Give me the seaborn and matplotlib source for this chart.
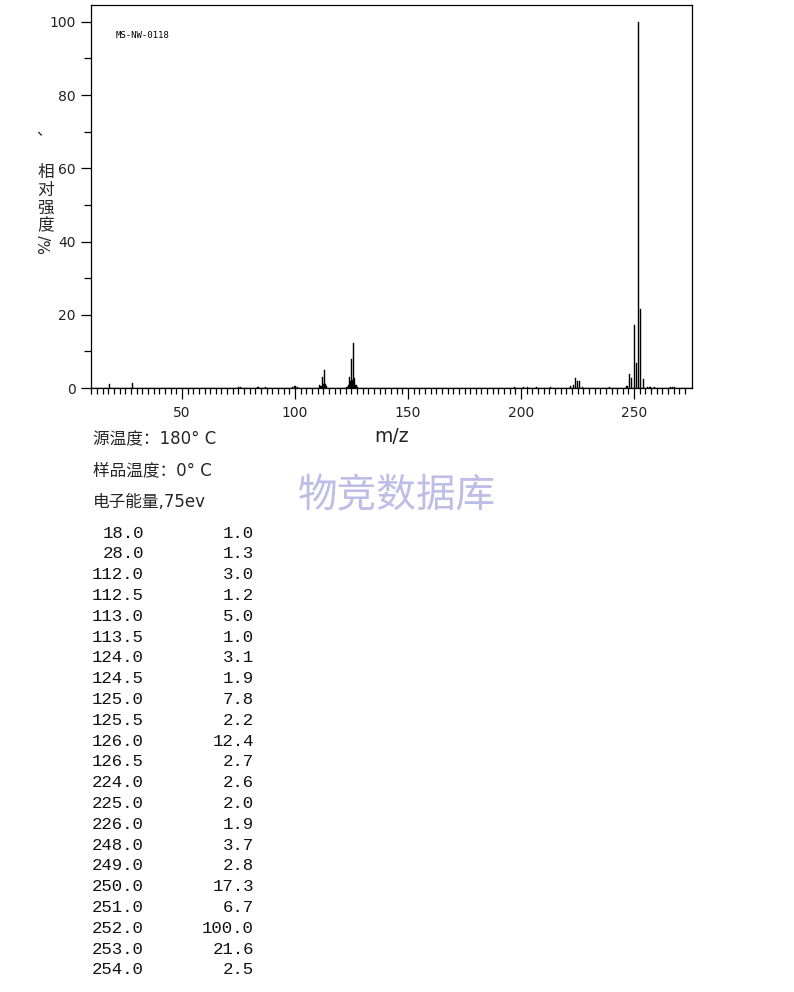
import numpy as np
import pandas as pd
import matplotlib
matplotlib.use("Agg")
import matplotlib.pyplot as plt
import seaborn as sns

# ---- data ----
# listed peaks (table)
mz_main = [18.0, 28.0, 112.0, 112.5, 113.0, 113.5, 124.0, 124.5, 125.0, 125.5,
           126.0, 126.5, 224.0, 225.0, 226.0, 248.0, 249.0, 250.0, 251.0, 252.0,
           253.0, 254.0]
int_main = [1.0, 1.3, 3.0, 1.2, 5.0, 1.0, 3.1, 1.9, 7.8, 2.2,
            12.4, 2.7, 2.6, 2.0, 1.9, 3.7, 2.8, 17.3, 6.7, 100.0,
            21.6, 2.5]
# small unlisted peaks (estimated from the plot)
mz_minor = [75.0, 76.0, 83.5, 84.0, 87.0, 99.0, 100.0, 101.0, 111.0, 111.5,
            114.0, 123.0, 123.5, 127.0, 127.5, 197.0, 201.0, 203.0, 207.0, 213.0,
            222.0, 223.0, 227.0, 239.0, 246.5, 247.0, 256.0, 257.0, 259.0, 266.0,
            267.0, 268.0]
int_minor = [0.4, 0.3, 0.3, 0.3, 0.4, 0.4, 0.6, 0.4, 0.7, 0.6,
             0.6, 0.4, 0.7, 0.8, 0.4, 0.3, 0.4, 0.3, 0.3, 0.3,
             0.5, 0.8, 0.4, 0.3, 0.6, 0.6, 0.4, 0.3, 0.3, 0.3,
             0.4, 0.3]

x_ticks = [50, 100, 150, 200, 250]
y_ticks = [0, 20, 40, 60, 80, 100]
sample_id = "MS-NW-0118"
info_lines = ["源温度：180° C", "样品温度：0° C", "电子能量,75ev"]
watermark = "物竞数据库"
ylabel_chars = ["相", "对", "强", "度"]

df = pd.DataFrame({"mz": mz_main + mz_minor, "inten": int_main + int_minor})

sns.set_style("white")
plt.rcParams["font.family"] = ["DejaVu Sans", "Noto Sans CJK SC"]

W, H = 794, 992
fig = plt.figure(figsize=(W / 100, H / 100), dpi=100)
ax = fig.add_axes([91 / W, 1 - 388 / H, (692 - 91) / W, (388 - 5) / H])

sns.histplot(data=df, x="mz", weights="inten", binwidth=0.5,
             binrange=(9.75, 275.75), color="black", alpha=1,
             edgecolor="black", linewidth=0.3, ax=ax)

ax.set_xlim(9.8, 275.6)
ax.set_ylim(0, 104.6)
ax.set_xlabel("")
ax.set_ylabel("")
ax.set_xticks(x_ticks)
ax.set_xticks(np.arange(10, 273, 2.5), minor=True)
ax.set_yticks(y_ticks)
ax.set_yticks([10, 30, 50, 70, 90], minor=True)
for s in ax.spines.values():
    s.set_color("black")
    s.set_linewidth(0.9)
ax.tick_params(axis="x", which="major", length=8, width=0.9, direction="out",
               labelsize=10, pad=5, colors="black", labelcolor="#222222")
ax.tick_params(axis="x", which="minor", length=4.5, width=0.9, direction="out",
               colors="black")
ax.tick_params(axis="y", which="major", length=7, width=0.9, direction="out",
               labelsize=10, pad=4, colors="black", labelcolor="#222222")
ax.tick_params(axis="y", which="minor", length=5, width=0.9, direction="out",
               colors="black")
ax.tick_params(bottom=True, left=True, which="both")

ax.text(20.6, 96.3, sample_id, fontsize=6.5, family="DejaVu Sans Mono",
        va="center", ha="left", color="black")

def ftext(x, y, s, **kw):
    fig.text(x / W, 1 - y / H, s, **kw)

cjk = ["Noto Sans CJK SC", "DejaVu Sans"]
latin_first = ["DejaVu Sans", "Noto Sans CJK SC"]
# y label
ftext(44, 131, "、", fontsize=11, family=cjk, ha="center", va="center")
for i, ch in enumerate(ylabel_chars):
    ftext(46, 172 + 18 * i, ch, fontsize=12, family=cjk, ha="center", va="center")
ftext(46, 244, "%/", fontsize=11, family=latin_first, ha="center", va="center",
      rotation=90)

# x label
ftext(391, 437, "m/z", fontsize=13.5, ha="center", va="center", color="#222222")

# info lines
for i, line in enumerate(info_lines):
    ftext(93, 439 + 31.5 * i, line, fontsize=12, family=latin_first,
          ha="left", va="center")

# watermark
ftext(397, 495, watermark, fontsize=28.5, family=cjk, ha="center", va="center",
      color="#bdbde6")

# table
for i, (m, v) in enumerate(zip(mz_main, int_main)):
    y = 533 + 20.8 * i
    ftext(144, y, f"{m:.1f}", fontsize=12.5, family="Liberation Mono",
          ha="right", va="center", color="#111111")
    ftext(254, y, f"{v:.1f}", fontsize=12.5, family="Liberation Mono",
          ha="right", va="center", color="#111111")

fig.savefig("out.png", dpi=100)
